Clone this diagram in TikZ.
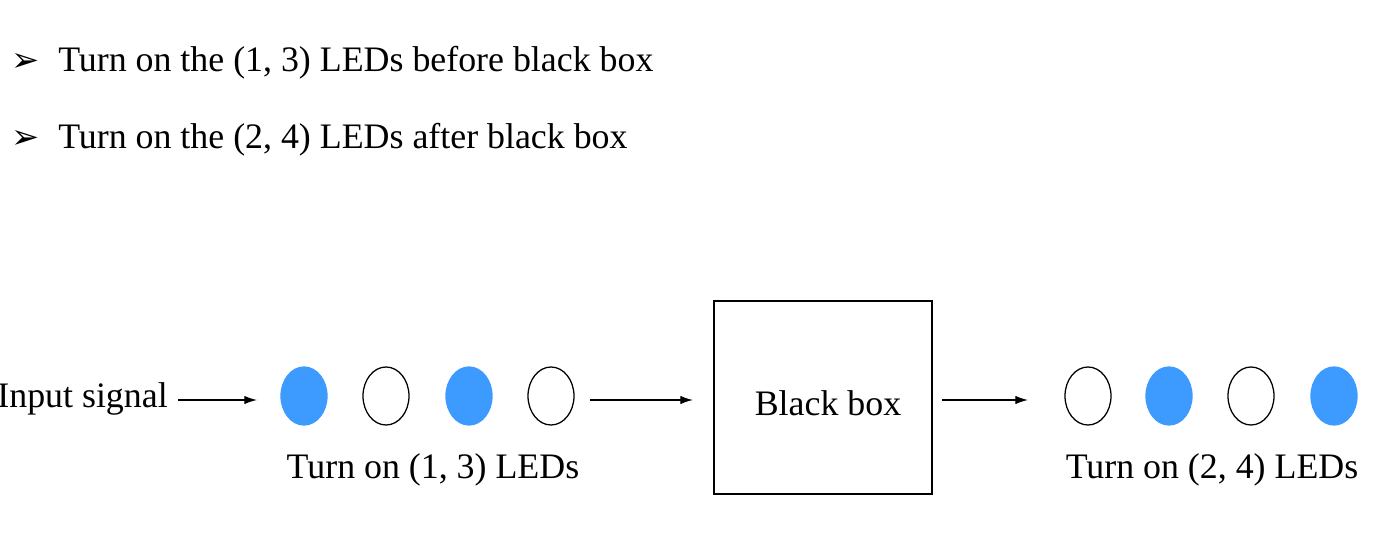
\documentclass[tikz,border=0pt]{standalone}
\usepackage{fontspec}
\setmainfont{Liberation Serif}
\newfontfamily\symf{DejaVu Sans}
\usetikzlibrary{shapes.geometric,arrows.meta}
\definecolor{ledblue}{HTML}{3D9BFF}
\begin{document}
\begin{tikzpicture}[x=0.025cm,y=-0.025cm,
  txt/.style={font=\fontsize{25.5}{30}\selectfont, inner sep=0},
  led/.style={ellipse, draw=black, line width=0.9pt, minimum width=46*0.025cm, minimum height=58*0.025cm, inner sep=0},
  on/.style={led, fill=ledblue, draw=ledblue},
  off/.style={led, fill=white},
  arr/.style={-{Latex[length=9pt,width=6pt]}, line width=0.9pt}]
\useasboundingbox (0,0) rectangle (1387,551);
\node[txt] (b1) at (26,63) {\symf\fontsize{24}{26}\selectfont ➢};
\node[txt, anchor=west] (t1) at (58,63) {Turn on the (1, 3) LEDs before black box};
\node[txt] (b2) at (26,140) {\symf\fontsize{24}{26}\selectfont ➢};
\node[txt, anchor=west] (t2) at (58,140) {Turn on the (2, 4) LEDs after black box};
\node[txt, anchor=east] (in) at (168,399) {Input signal};
\coordinate (a1s) at (178,400); \coordinate (a1e) at (257,400);
\draw[arr] (a1s) -- (a1e);
\node[on] (l1) at (304,396) {};
\node[off] (l2) at (386,396) {};
\node[on] (l3) at (469,396) {};
\node[off] (l4) at (551,396) {};
\coordinate (a2s) at (590,400); \coordinate (a2e) at (693,400);
\draw[arr] (a2s) -- (a2e);
\node[draw, line width=0.9pt, minimum width=218*0.025cm, minimum height=193*0.025cm, inner sep=0] (box) at (823,397.5) {};
\node[txt] (bl) at (828,403) {Black box};
\coordinate (a3s) at (942,400); \coordinate (a3e) at (1028,400);
\draw[arr] (a3s) -- (a3e);
\node[off] (r1) at (1088,396) {};
\node[on] (r2) at (1169,396) {};
\node[off] (r3) at (1251,396) {};
\node[on] (r4) at (1334,396) {};
\node[txt] (lab1) at (433,470) {Turn on (1, 3) LEDs};
\node[txt] (lab2) at (1212,470) {Turn on (2, 4) LEDs};
\end{tikzpicture}
\end{document}
